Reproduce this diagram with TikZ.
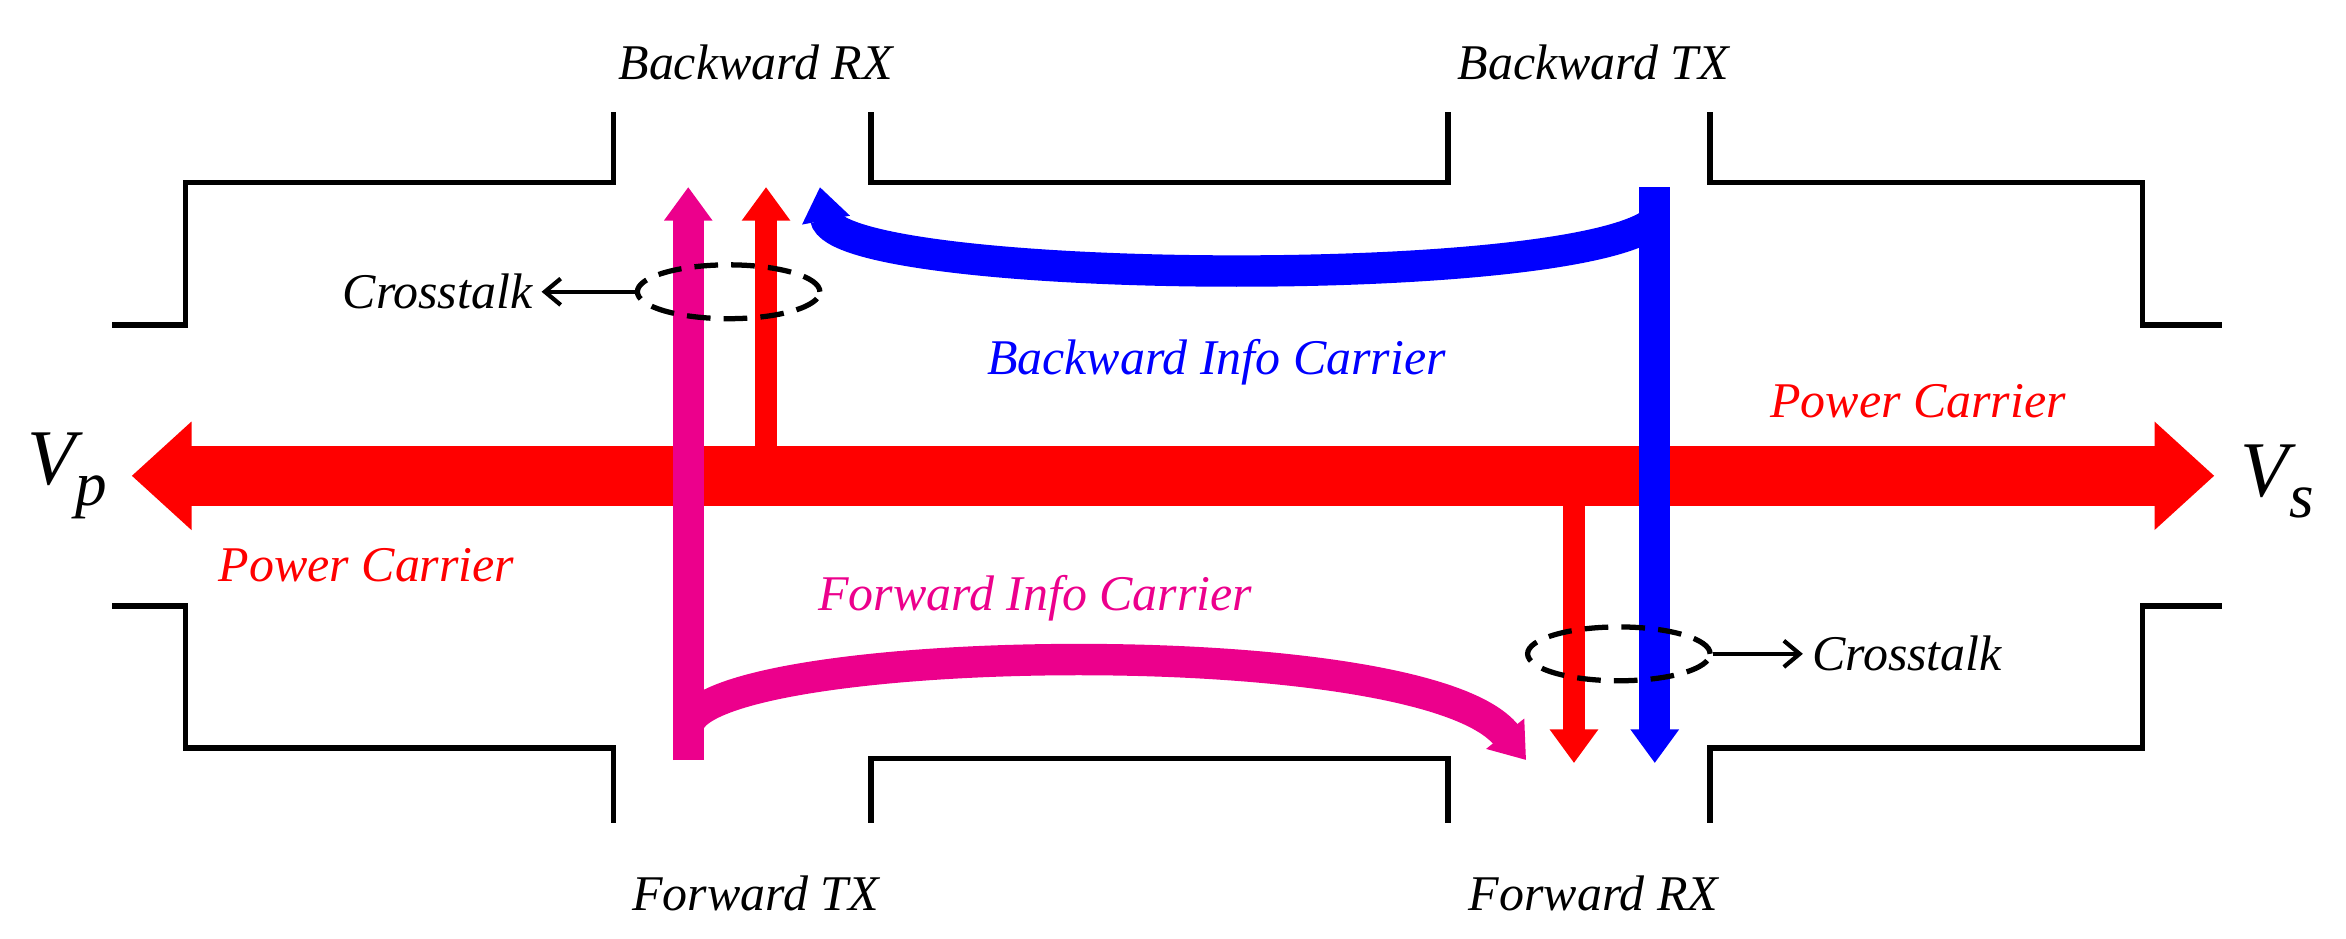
\documentclass[tikz,border=0pt]{standalone}
\usepackage{fontspec}
\setmainfont{Liberation Serif}
\usetikzlibrary{arrows.meta,shapes.geometric}
\begin{document}
\begin{tikzpicture}[x=0.02cm,y=-0.02cm,
  wall/.style={line width=2.2pt,black},
  lbl/.style={font=\itshape\fontsize{19}{21}\selectfont},
  ell/.style={line width=2pt,dash pattern=on 9pt off 5pt}]
\useasboundingbox (0,0) rectangle (1568,627);
% walls
\draw[wall] (75,217)--(124,217)--(124,122)--(410,122)--(410,75);
\draw[wall] (582,75)--(582,122)--(968,122)--(968,75);
\draw[wall] (1143,75)--(1143,122)--(1432,122)--(1432,217)--(1485,217);
\draw[wall] (75,405)--(124,405)--(124,500)--(410,500)--(410,550);
\draw[wall] (582,550)--(582,507)--(968,507)--(968,550);
\draw[wall] (1143,550)--(1143,500)--(1432,500)--(1432,405)--(1485,405);
% power carrier
\coordinate (pl) at (88,318); \coordinate (pr) at (1480,318);
\draw[red,line width=0.8cm,{Triangle[width=1.4cm,length=0.8cm]}-{Triangle[width=1.4cm,length=0.8cm]}] (pl)--(pr);
% red branches
\coordinate (ru0) at (512,310); \coordinate (ru1) at (512,125);
\draw[red,line width=0.3cm,-{Triangle[width=0.62cm,length=0.45cm]}] (ru0)--(ru1);
\coordinate (rd0) at (1052,325); \coordinate (rd1) at (1052,510);
\draw[red,line width=0.3cm,-{Triangle[width=0.62cm,length=0.45cm]}] (rd0)--(rd1);
% magenta forward
\coordinate (m0) at (460,508); \coordinate (m1) at (460,125);
\draw[magenta,line width=0.42cm,-{Triangle[width=0.62cm,length=0.45cm]}] (m0)--(m1);
\coordinate (mc0) at (460,485); \coordinate (mc1) at (1020,508);
\draw[magenta,line width=0.42cm,-{Triangle[width=0.62cm,length=0.45cm]}] (mc0) .. controls (470,430) and (950,420) .. (mc1);
% blue backward
\coordinate (b0) at (1106,125); \coordinate (b1) at (1106,510);
\draw[blue,line width=0.42cm,-{Triangle[width=0.62cm,length=0.45cm]}] (b0)--(b1);
\coordinate (bc0) at (1106,148); \coordinate (bc1) at (548,125);
\draw[blue,line width=0.42cm,-{Triangle[width=0.62cm,length=0.45cm]}] (bc0) .. controls (1050,195) and (560,190) .. (bc1);
% crosstalk
\node[ell,draw,ellipse,minimum width=2.44cm,minimum height=0.72cm,inner sep=0] (e1) at (487,195) {};
\node[ell,draw,ellipse,minimum width=2.44cm,minimum height=0.72cm,inner sep=0] (e2) at (1082,437) {};
\node[lbl,anchor=east] (c1) at (362,195) {Crosstalk};
\node[lbl,anchor=west] (c2) at (1205,437) {Crosstalk};
\draw[line width=1.6pt,-{Straight Barb[length=6pt,width=10pt]}] (e1.west)--(c1.east);
\draw[line width=1.6pt,-{Straight Barb[length=6pt,width=10pt]}] (e2.east)--(c2.west);
% labels
\node[lbl] (brx) at (505,42) {Backward RX};
\node[lbl] (btx) at (1065,42) {Backward TX};
\node[lbl] (ftx) at (505,597) {Forward TX};
\node[lbl] (frx) at (1065,597) {Forward RX};
\node[lbl,blue] (bic) at (813,242) {Backward Info Carrier};
\node[lbl,red] (pc1) at (1282,268) {Power Carrier};
\node[lbl,red] (pc2) at (245,378) {Power Carrier};
\node[lbl,magenta] (fic) at (692,400) {Forward Info Carrier};
\node[font=\itshape\fontsize{30}{32}\selectfont] (vp) at (45,318) {V\raisebox{-8pt}{\fontsize{24}{26}\selectfont p}};
\node[font=\itshape\fontsize{30}{32}\selectfont] (vs) at (1522,322) {V\raisebox{-8pt}{\fontsize{24}{26}\selectfont s}};
\end{tikzpicture}
\end{document}
